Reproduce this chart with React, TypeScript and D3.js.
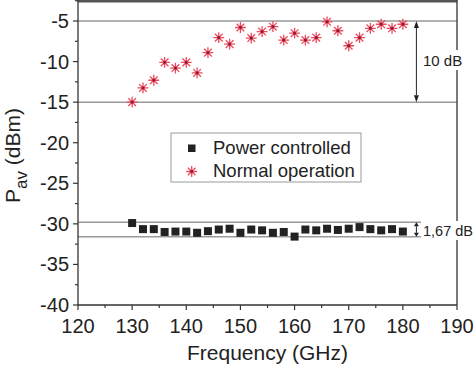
import React from 'react';
import * as d3 from 'd3';

// frequency points (GHz)
const freqs = [130, 132, 134, 136, 138, 140, 142, 144, 146, 148, 150, 152, 154, 156, 158, 160, 162, 164, 166, 168, 170, 172, 174, 176, 178, 180];

// Normal operation, P_av in dBm
const normalOp = [-15.0, -13.25, -12.3, -10.1, -10.8, -10.1, -11.4, -8.9, -7.05, -7.85, -5.8, -7.1, -6.3, -5.7, -7.35, -6.5, -7.35, -7.05, -5.1, -6.2, -8.05, -7.05, -5.9, -5.4, -5.9, -5.4];

// Power controlled, P_av in dBm
const powerCtrl = [-29.9, -30.65, -30.65, -31.0, -30.95, -30.95, -31.1, -30.9, -30.7, -30.6, -31.1, -30.7, -30.8, -31.1, -31.0, -31.57, -30.7, -30.8, -30.6, -30.75, -30.6, -30.4, -30.65, -30.8, -30.65, -30.95];

const xTicks = [120, 130, 140, 150, 160, 170, 180, 190];
const yTicks = [-40, -35, -30, -25, -20, -15, -10, -5];
const refLines = [-5, -15, -29.8, -31.6];

const W = 474;
const H = 367;
const FONT = 'Liberation Sans, Arial, sans-serif';
const RED = '#ec4a5f';

export default function App() {
  const x = d3.scaleLinear().domain([120, 190]).range([78, 457]);
  const y = d3.scaleLinear().domain([-40, -5]).range([305, 21]);

  const xMinor = d3.range(125, 190, 10);
  const yMinor = d3.range(-37.5, -2, 5);

  const arrowX = x(182.5);

  const star = (cx: number, cy: number, key: number) => {
    const r = 5.4;
    const d = r * Math.SQRT1_2;
    return (
      <g key={key}>
        <path
          d={`M${cx - r},${cy}L${cx + r},${cy}M${cx},${cy - r}L${cx},${cy + r}M${cx - d},${cy - d}L${cx + d},${cy + d}M${cx - d},${cy + d}L${cx + d},${cy - d}`}
          stroke={RED}
          strokeWidth={1.3}
          fill="none"
        />
        <rect x={cx - 1.3} y={cy - 1.3} width={2.6} height={2.6} fill="#8a1c2c" />
      </g>
    );
  };

  const arrow = (x0: number, y0: number, y1: number, head: number) => (
    <g>
      <line x1={x0} x2={x0} y1={y0 + head} y2={y1 - head} stroke="#222" strokeWidth={1} />
      <path d={`M${x0},${y0}L${x0 - 2.5},${y0 + head}L${x0 + 2.5},${y0 + head}Z`} fill="#222" />
      <path d={`M${x0},${y1}L${x0 - 2.5},${y1 - head}L${x0 + 2.5},${y1 - head}Z`} fill="#222" />
    </g>
  );

  return (
    <svg width={W} height={H} style={{ position: 'absolute', left: 0, top: 0, background: '#fff' }} fontFamily={FONT}>
      {/* reference lines */}
      {refLines.map((v) => (
        <line key={v} x1={x(120)} x2={x(190)} y1={y(v)} y2={y(v)} stroke="#9a9a9a" strokeWidth={1.5} />
      ))}

      {/* frame */}
      <line x1={x(120)} x2={x(190)} y1={1} y2={1} stroke="#555" strokeWidth={3} />
      <line x1={x(190)} x2={x(190)} y1={0} y2={y(-40)} stroke="#333" strokeWidth={1.3} />
      <line x1={x(120)} x2={x(120)} y1={0} y2={y(-40)} stroke="#333" strokeWidth={1.3} />
      <line x1={x(120)} x2={x(190)} y1={y(-40)} y2={y(-40)} stroke="#333" strokeWidth={1.3} />

      {/* x ticks */}
      {xTicks.map((t) => (
        <g key={t}>
          <line x1={x(t)} x2={x(t)} y1={y(-40)} y2={y(-40) + 5} stroke="#333" strokeWidth={1.2} />
          <text x={x(t)} y={333} textAnchor="middle" fontSize={20} fill="#222">{t}</text>
        </g>
      ))}
      {xMinor.map((t) => (
        <line key={t} x1={x(t)} x2={x(t)} y1={y(-40)} y2={y(-40) + 3} stroke="#333" strokeWidth={1.2} />
      ))}

      {/* y ticks */}
      {yTicks.map((t) => (
        <g key={t}>
          <line x1={x(120) - 5} x2={x(120)} y1={y(t)} y2={y(t)} stroke="#333" strokeWidth={1.2} />
          <text x={69} y={y(t) + 7} textAnchor="end" fontSize={20} fill="#222">{t}</text>
        </g>
      ))}
      {yMinor.map((t) => (
        <line key={t} x1={x(120) - 3} x2={x(120)} y1={y(t)} y2={y(t)} stroke="#333" strokeWidth={1.2} />
      ))}

      {/* axis titles */}
      <text x={(x(120) + x(190)) / 2} y={360} textAnchor="middle" fontSize={21} fill="#222">Frequency (GHz)</text>
      <text transform="translate(19.5,203) rotate(-90)" fontSize={21} fill="#222">
        P<tspan fontSize={17} dy={7}>av</tspan><tspan dy={-7}> (dBm)</tspan>
      </text>

      {/* data */}
      {freqs.map((f, i) => star(x(f), y(normalOp[i]), i))}
      {freqs.map((f, i) => (
        <rect key={f} x={x(f) - 4} y={y(powerCtrl[i]) - 4} width={8} height={8} fill="#222" />
      ))}

      {/* annotations */}
      {arrow(arrowX, y(-5), y(-15), 7)}
      <rect x={421} y={50} width={42} height={20} fill="#fff" />
      <text x={423} y={66} fontSize={15} fill="#222">10 dB</text>
      {arrow(arrowX, y(-29.8), y(-31.6), 4)}
      <rect x={421} y={221} width={52} height={19} fill="#fff" />
      <text x={423} y={236} fontSize={14.5} fill="#222">1,67 dB</text>

      {/* legend */}
      <rect x={171} y={133} width={190} height={49} fill="#fff" stroke="#999" strokeWidth={1} />
      <rect x={188} y={144.5} width={7.5} height={7.5} fill="#222" />
      {star(191.7, 171.5, 999)}
      <text x={213} y={154} fontSize={18.5} fill="#222">Power controlled</text>
      <text x={213} y={177} fontSize={18.5} fill="#222">Normal operation</text>
    </svg>
  );
}
